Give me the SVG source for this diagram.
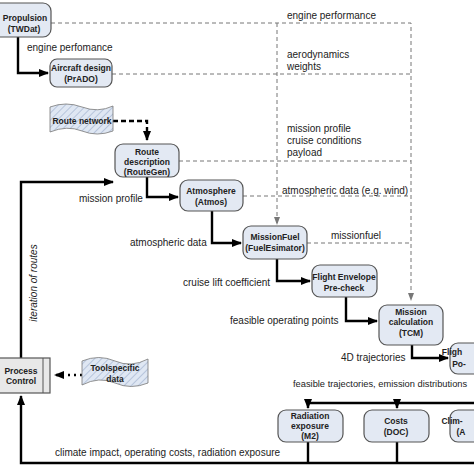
<svg xmlns="http://www.w3.org/2000/svg" width="474" height="474" viewBox="0 0 474 474">
<defs>
<style>
.box{fill:#e3e9f3;stroke:#555;stroke-width:1.2}
.bt{font-family:"Liberation Sans",Arial,sans-serif;font-size:8.5px;font-weight:bold;fill:#222;text-anchor:middle}
.lt{font-family:"Liberation Sans",Arial,sans-serif;font-size:10px;fill:#222}
.thick{fill:none;stroke:#000;stroke-width:2.4}
.dash{fill:none;stroke:#777;stroke-width:1;stroke-dasharray:4,3}
</style>
<marker id="ah" markerWidth="10" markerHeight="10" refX="9" refY="5" orient="auto" markerUnits="userSpaceOnUse"><path d="M0,1 L10,5 L0,9 Z" fill="#000"/></marker>
<marker id="ahg" markerWidth="8" markerHeight="8" refX="7" refY="4" orient="auto" markerUnits="userSpaceOnUse"><path d="M0,1 L8,4 L0,7 Z" fill="#777"/></marker>
<pattern id="hatch" width="5" height="5" patternUnits="userSpaceOnUse" patternTransform="rotate(45)"><rect width="5" height="5" fill="#dfe7f3"/><line x1="0" y1="0" x2="0" y2="5" stroke="#a9b9d3" stroke-width="1.5"/></pattern>
</defs>
<rect width="474" height="474" fill="#fff"/>
<g id="connectors">
<path class="dash" d="M51,23 H411 V300" marker-end="url(#ahg)"/>
<path class="dash" d="M277,23 V224" marker-end="url(#ahg)"/>
<path class="dash" d="M112,74 H411"/>
<path class="dash" d="M179,161 H411"/>
<path class="dash" d="M243,196 H411"/>
<path class="dash" d="M307,243 H411"/>
<path class="thick" d="M18,37 V73 H48" marker-end="url(#ah)"/>
<path d="M113,121 H147 V140" fill="none" stroke="#000" stroke-width="2.4" stroke-dasharray="5,3" marker-end="url(#ah)"/>
<path class="thick" d="M21,358 V182 H113" marker-end="url(#ah)"/>
<path class="thick" d="M147,177 V197 H178" marker-end="url(#ah)"/>
<path class="thick" d="M212,211 V243 H241" marker-end="url(#ah)"/>
<path class="thick" d="M277,259 V281 H310" marker-end="url(#ah)"/>
<path class="thick" d="M346,297 V321 H377" marker-end="url(#ah)"/>
<path class="thick" d="M412,345 V358 H448" marker-end="url(#ah)"/>
<path class="thick" d="M474,403 H308 V408" marker-end="url(#ah)"/>
<path class="thick" d="M397,403 V408" marker-end="url(#ah)"/>
<path class="thick" d="M474,463 H21 V396" marker-end="url(#ah)"/>
<path class="thick" d="M308,442 V463"/>
<path class="thick" d="M397,442 V463"/>
<path d="M82,375 H55" fill="none" stroke="#000" stroke-width="2.4" stroke-dasharray="2,4" marker-end="url(#ah)"/>
</g>
<g id="labels">
<text class="lt" x="287" y="19">engine performance</text>
<text class="lt" x="27" y="51">engine perfomance</text>
<text class="lt" x="287" y="58">aerodynamics</text>
<text class="lt" x="287" y="70">weights</text>
<text class="lt" x="287" y="132">mission profile</text>
<text class="lt" x="287" y="144">cruise conditions</text>
<text class="lt" x="287" y="156">payload</text>
<text class="lt" x="282" y="194">atmospheric data (e.g. wind)</text>
<text class="lt" x="79" y="202">mission profile</text>
<text class="lt" x="130" y="246">atmospheric data</text>
<text class="lt" x="331" y="239">missionfuel</text>
<text class="lt" x="183" y="286">cruise lift coefficient</text>
<text class="lt" x="230" y="324">feasible operating points</text>
<text class="lt" x="341" y="361">4D trajectories</text>
<text class="lt" x="293" y="387" style="font-size:9.3px">feasible trajectories, emission distributions</text>
<text class="lt" x="55" y="456">climate impact, operating costs, radiation exposure</text>
<text class="lt" x="37" y="283" text-anchor="middle" font-style="italic" transform="rotate(-90 37 283)" fill="#444">iteration of routes</text>
</g>
<g id="propulsion"><rect class="box" x="-10" y="3" width="61" height="34" rx="8"/><text class="bt" x="25" y="21">Propulsion</text><text class="bt" x="24" y="32">(TWDat)</text></g>
<g id="aircraft"><rect class="box" x="50" y="59" width="62" height="28" rx="7"/><text class="bt" x="81" y="71">Aircraft design</text><text class="bt" x="81" y="82">(PrADO)</text></g>
<g id="routenetwork"><path d="M50,107 Q66,101 82,107 T113,106 V131 Q97,137 82,131 T50,132 Z" fill="url(#hatch)" stroke="#777" stroke-width="0.8"/><text class="bt" x="82" y="124">Route network</text></g>
<g id="routedesc"><rect class="box" x="115" y="144" width="64" height="33" rx="8"/><text class="bt" x="147" y="155">Route</text><text class="bt" x="147" y="165">description</text><text class="bt" x="147" y="175">(RouteGen)</text></g>
<g id="atmos"><rect class="box" x="180" y="180" width="63" height="31" rx="8"/><text class="bt" x="211" y="194">Atmosphere</text><text class="bt" x="211" y="205">(Atmos)</text></g>
<g id="missionfuel"><rect class="box" x="243" y="226" width="64" height="33" rx="8"/><text class="bt" x="275" y="240">MissionFuel</text><text class="bt" x="275" y="251">(FuelEsimator)</text></g>
<g id="flightenv"><rect class="box" x="312" y="265" width="65" height="32" rx="8"/><text class="bt" x="344" y="280">Flight Envelope</text><text class="bt" x="344" y="291">Pre-check</text></g>
<g id="missioncalc"><rect class="box" x="379" y="305" width="64" height="40" rx="8"/><text class="bt" x="411" y="315">Mission</text><text class="bt" x="411" y="325">calculation</text><text class="bt" x="411" y="336">(TCM)</text></g>
<g id="flightpost"><rect class="box" x="450" y="343" width="60" height="31" rx="8"/><text class="bt" x="452" y="355" text-anchor="start">Fligh</text><text class="bt" x="459" y="367" text-anchor="start">Po-</text></g>
<g id="radiation"><rect class="box" x="278" y="410" width="65" height="32" rx="8"/><text class="bt" x="310" y="419">Radiation</text><text class="bt" x="310" y="429">exposure</text><text class="bt" x="310" y="439">(M2)</text></g>
<g id="costs"><rect class="box" x="364" y="410" width="65" height="32" rx="8"/><text class="bt" x="396" y="424">Costs</text><text class="bt" x="396" y="435">(DOC)</text></g>
<g id="climate"><rect class="box" x="450" y="410" width="60" height="32" rx="8"/><text class="bt" x="452" y="424" text-anchor="start">Clim-</text><text class="bt" x="461" y="435" text-anchor="start">(A</text></g>
<g id="processcontrol"><rect x="-5" y="358" width="55" height="35" fill="#e8e8e8" stroke="#555" stroke-width="1.2"/><line x1="43" y1="358" x2="43" y2="393" stroke="#555" stroke-width="1"/><text class="bt" x="21" y="374">Process</text><text class="bt" x="21" y="384">Control</text></g>
<g id="toolspecific"><path d="M82,361 Q99,354 115,361 T148,359 V383 Q131,390 115,383 T82,385 Z" fill="url(#hatch)" stroke="#777" stroke-width="0.8"/><text class="bt" x="115" y="371">Toolspecific</text><text class="bt" x="115" y="382">data</text></g>
</svg>
